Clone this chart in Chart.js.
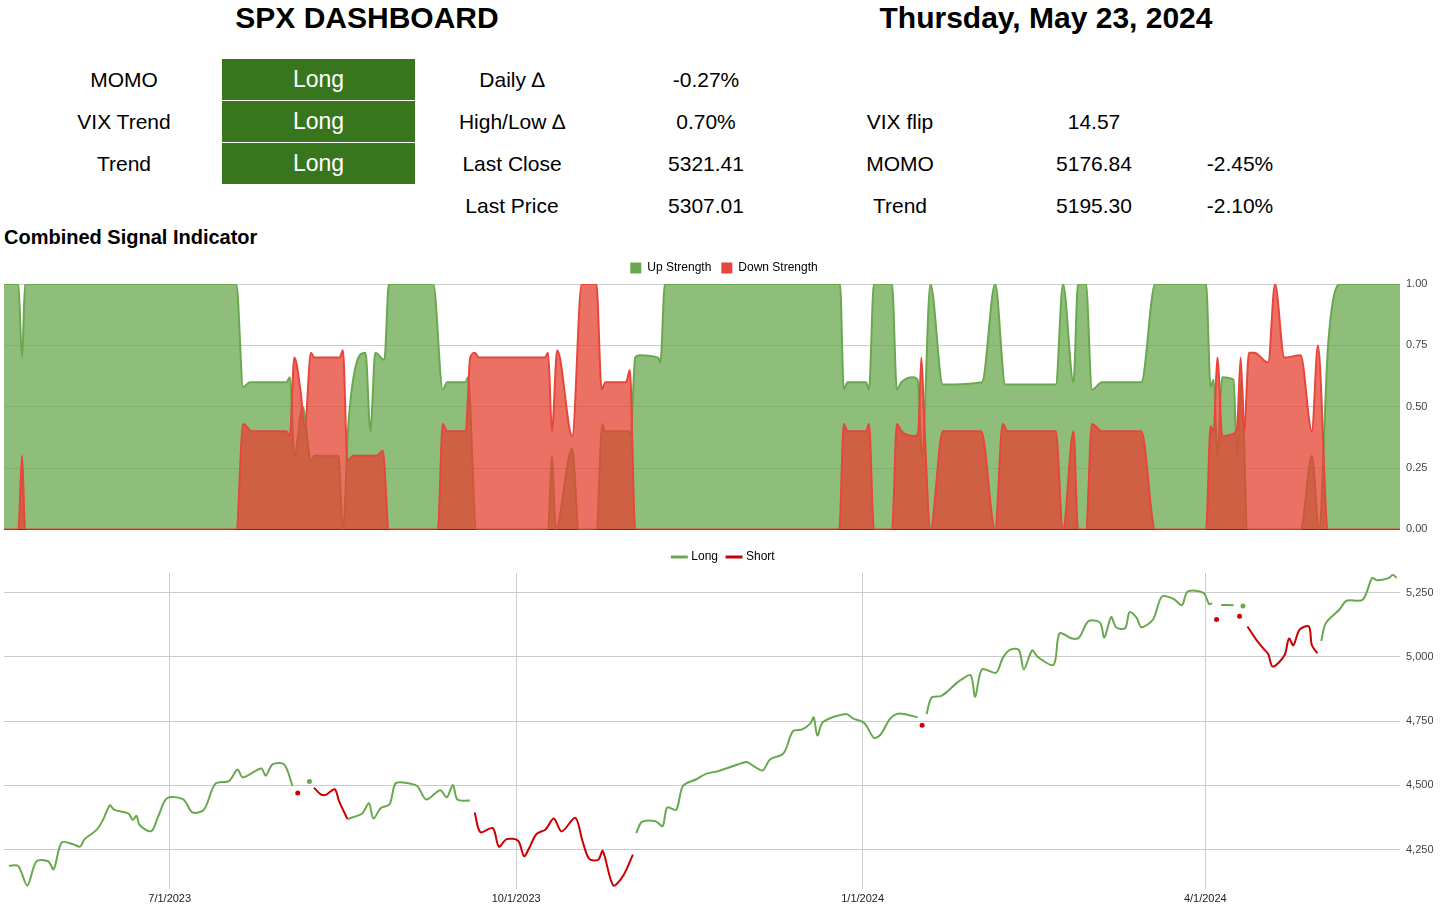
<!DOCTYPE html>
<html><head><meta charset="utf-8">
<script src="https://cdn.jsdelivr.net/npm/chart.js@4.4.1/dist/chart.umd.min.js"></script>
<style>
body{margin:0;width:1444px;height:910px;background:#fff;font-family:"Liberation Sans",Arial,sans-serif;position:relative;overflow:hidden}
.t{position:absolute;transform:translate(-50%,-50%);white-space:nowrap;font-size:21px;color:#000}
.h{font-weight:bold;font-size:30px}
.box{position:absolute;left:222px;width:193px;height:41px;background:#38761d;color:#fff;font-size:23px;display:flex;align-items:center;justify-content:center}
#c1{position:absolute;left:0;top:252px}
#c2{position:absolute;left:0;top:541px}
</style></head><body>
<div class="t h" style="left:367px;top:18px">SPX DASHBOARD</div>
<div class="t h" style="left:1046px;top:18px">Thursday, May 23, 2024</div>
<div id="tbl"></div>
<div style="position:absolute;left:4px;top:226px;font-weight:bold;font-size:20px">Combined Signal Indicator</div>
<canvas id="c1" width="1444" height="290"></canvas>
<canvas id="c2" width="1444" height="369"></canvas>
<script>
// ---- dashboard values ----
const signalNames = ['MOMO','VIX Trend','Trend'];
const signalStates = ['Long','Long','Long'];
const statLabels = ['Daily \u2206','High/Low \u2206','Last Close','Last Price'];
const statValues = ['-0.27%','0.70%','5321.41','5307.01'];
const levelLabels = ['','VIX flip','MOMO','Trend'];
const levelValues = ['','14.57','5176.84','5195.30'];
const levelPct = ['','','-2.45%','-2.10%'];

// ---- Combined signal (days since 2023-05-19) ----
const upDays = [-1,2.8,3.8,4.6,60.7,62.5,64.3,74,74.9,76.1,78.3,80.5,81.4,87.8,89,90.5,93.5,95,96.3,97.6,100,101.2,113,115.5,116.7,121.6,122.2,124.4,143.5,144.5,145.5,149.9,151.6,156.3,157.9,158.5,164.8,165.4,166.6,167.8,172.7,173.3,174.5,221,222,223,227.9,228.7,230,234.8,236.1,237.3,240.4,241.6,242.8,245,248.3,258.7,262.2,264.9,278.3,280.2,283,284.2,286.3,287.9,290.6,301,304.7,318.2,319.4,320.2,321.2,322.5,325.5,326.4,327.6,329.2,343.3,346.3,348.2,350.6,353.7,369.7];
const upStrength = [1,1,0.70,1,1,0.58,0.60,0.60,0.62,0.30,0.50,0.28,0.30,0.30,0,0.44,0.71,0.72,0.40,0.72,0.69,1,1,0.57,0.60,0.60,0.62,0,0,0.30,0,0.33,0,0,0.43,0.40,0.40,0.38,0.70,0.71,0.70,0.68,1,1,0.57,0.60,0.60,0.57,1,1,0.57,0.60,0.62,0.61,0.30,1,0.59,0.60,1,0.59,0.59,1,0.60,1,1,0.57,0.60,0.60,1,1,0.58,0.61,0.30,0.62,0.61,0.30,0.61,0,0,0.30,0,0.75,1,1];
const downDays = [-1,2.8,3.8,4.6,60.7,62.5,64.9,74,74.9,76.1,77.7,78.9,80.5,81.4,88.1,89,90.2,91.7,97.8,99.6,101.2,114.2,115.5,116.7,121.6,122.8,124,125.2,142.6,143.5,144.5,145.9,149.9,152.4,156.3,157.7,158.7,164.2,165.2,166.6,220.8,222,223,227.9,228.7,230,234.8,236.1,237.3,241,241.8,242.6,243.4,245,248.3,258.5,262.2,264.2,265.5,278.3,280.2,283,284.2,286.3,287.9,290.6,301,304.7,318.2,319.4,320.2,321.2,322.5,325.5,326.4,327.4,328.3,329.6,331,334.7,336.5,339,343.3,346.3,347.9,350.6,369.7];
const downStrength = [0,0,0.30,0,0,0.43,0.40,0.40,0.38,0.70,0.57,0.42,0.72,0.70,0.70,0.73,0.28,0.30,0.30,0.32,0,0,0.43,0.40,0.40,0.70,0.72,0.70,0.70,0.72,0.40,0.73,0.38,1,1,0.57,0.60,0.60,0.65,0,0,0.43,0.40,0.40,0.43,0,0,0.43,0.40,0.38,0.40,0.70,0.43,0,0.40,0.40,0,0.43,0.40,0.40,0,0.40,0,0,0.43,0.40,0.40,0,0,0.42,0.40,0.70,0.38,0.39,0.41,0.70,0.40,0.72,0.72,0.68,1,0.70,0.71,0.40,0.75,0,0];

// ---- SPX close by signal (null = break) ----
const longDays = [0.3,2.75,5.2,7.6,10.7,12.2,14.3,17.4,19.2,20.4,23.5,25.3,27.1,28.3,32,33.2,34.2,35,38.1,39.9,42.3,46.6,49,52.1,55.1,58.8,61,62.4,67.3,68.5,70.3,73.4,75.6,77,80.1,85,90.2,94.1,95.9,97.1,99,101.4,102.9,105.1,108.7,111.1,114.8,116.6,118.2,119.4,122.7,140,166.9,168.4,172,173.9,175.1,177.5,179.3,183,185.4,188.5,195,196.3,198.7,200.5,202.4,206,208.5,211,213.2,214,215,216.5,222.6,224.4,227.5,230,231.8,234.2,236.1,237.9,241.6,242.8,244,245.3,247.7,249.5,251.4,253.2,255.7,256.9,258.7,262.4,264.2,266.1,268.5,269.8,272,273.4,277.7,279.3,282.6,284.5,286.9,290,291.2,293,294.3,296.7,297.9,299.8,301,304.1,306.5,309.6,311.8,313.3,317.5,319,319.8,321,322.2,325.5,327,328,340,348.8,350,353.7,355.5,359.8,362.3,363.5,366.5,367.8,368.8];
const longClose = [4187,4187,4111,4205,4205,4174,4278,4271,4262,4291,4326,4366,4422,4405,4391,4366,4382,4346,4322,4378,4450,4446,4395,4406,4506,4518,4562,4531,4566,4538,4582,4582,4498,null,4515,null,4369,4391,4431,4371,4411,4427,4507,4511,4498,4445,4481,4454,4502,4445,4441,null,4315,4358,4361,4342,4414,4405,4498,4525,4545,4555,4587,4591,4569,4558,4601,4625,4711,4718,4742,4765,4694,4747,4778,4761,4742,4685,4698,4758,4778,4778,4765,null,4778,4841,4847,4865,4891,4911,4929,4845,4951,4938,4995,5027,5027,4951,5025,5001,4969,5091,5071,5075,5138,5134,5075,5155,5115,5111,5174,5151,5115,5145,5235,5225,5201,5254,5249,5205,5209,null,5202,5201,null,5198,null,5062,5131,5185,5218,5222,5307,5298,5305,5318,5307];
const shortDays = [77,79,81.3,83.1,84.4,86.8,88,90.2,100,124,125.5,128.8,130.4,132.5,135.5,137.1,138.5,140.4,142.8,145,147.1,150.7,152.6,154.4,156.8,158,160.8,163.5,166,200,242.8,300,321,324,327.1,328,329.2,331.6,333.5,334.7,335.9,339,340.2,341.4,343,345.5,346.3,347.8];
const shortClose = [4471,null,4491,4465,4463,4485,4438,4369,null,4395,4318,4334,4262,4291,4285,4225,4258,4311,4329,4371,4321,4374,4285,4214,4211,4245,4111,4151,4231,null,4734,null,5145,null,5158,null,5118,5065,5031,5011,4962,5005,5071,5045,5105,5118,5045,5014];

const startDate = '2023-05-19';
const tickDates = ['2023-07-01','2023-10-01','2024-01-01','2024-04-01'];
const tickLabels = ['7/1/2023','10/1/2023','1/1/2024','4/1/2024'];
const yTicks2 = [4250,4500,4750,5000,5250];
const yTicks1 = [0,0.25,0.5,0.75,1];

// ---- build dashboard table ----
const tbl = document.getElementById('tbl');
function put(txt,x,y){ if(!txt) return; const d=document.createElement('div'); d.className='t'; d.style.left=x+'px'; d.style.top=y+'px'; d.textContent=txt; tbl.appendChild(d); }
const rowY=[80,122,164,206];
signalNames.forEach((n,i)=>{ put(n,124,rowY[i]); const b=document.createElement('div'); b.className='box'; b.style.top=(rowY[i]-21)+'px'; b.textContent=signalStates[i]; tbl.appendChild(b); });
statLabels.forEach((n,i)=>{ put(n,512,rowY[i]); put(statValues[i],706,rowY[i]); });
levelLabels.forEach((n,i)=>{ put(n,900,rowY[i]); put(levelValues[i],1094,rowY[i]); put(levelPct[i],1240,rowY[i]); });

const dayOf = s => Math.round((new Date(s+'T00:00:00Z') - new Date(startDate+'T00:00:00Z'))/86400000);
const tickDays = tickDates.map(dayOf);
const zip = (xs,ys) => xs.map((x,i)=>({x, y: ys[i]}));
const gridC = '#cccccc';
const tickFont = {family:'"Liberation Sans",Arial', size:11};
const fitRight = s => { s.width = 44; };

new Chart(document.getElementById('c1'), {
  type:'line',
  data:{ datasets:[
    {label:'Up Strength', data: zip(upDays, upStrength), borderColor:'#6aa84f', backgroundColor:'rgba(106,168,79,0.75)', fill:'origin', order:2},
    {label:'Down Strength', data: zip(downDays, downStrength), borderColor:'#e8453c', backgroundColor:'rgba(230,65,50,0.75)', fill:'origin', order:1}
  ]},
  options:{ responsive:false, animation:false, devicePixelRatio:1,
    layout:{padding:{left:4,right:0,top:0,bottom:4}},
    elements:{ point:{radius:0}, line:{borderWidth:2, cubicInterpolationMode:'monotone'} },
    plugins:{ tooltip:{enabled:false},
      legend:{ labels:{ boxWidth:11, boxHeight:11, font:{family:'"Liberation Sans",Arial', size:12}, color:'#222',
        generateLabels: ch => ch.data.datasets.map((d,i)=>({text:d.label, fillStyle: i? '#e8453c':'#6aa84f', strokeStyle:'transparent', lineWidth:0, datasetIndex:i})) } } },
    scales:{
      x:{ type:'linear', min:-1, max:369.7, display:false },
      y:{ position:'right', min:0, max:1, afterFit: fitRight,
        afterBuildTicks: s => { s.ticks = yTicks1.map(v=>({value:v})); },
        ticks:{ font:tickFont, color:'#444', padding:6, callback: v => v.toFixed(2) },
        grid:{ color: c => c.tick && c.tick.value===0 ? '#333' : gridC, drawTicks:false }, border:{display:false} }
    } }
});

function isoRadius(arr){ return c => { const i=c.dataIndex; const p=arr[i-1], n=arr[i+1]; return (arr[i]!=null && (p==null) && (n==null)) ? 2.5 : 0; }; }

new Chart(document.getElementById('c2'), {
  type:'line',
  data:{ datasets:[
    {label:'Long', data: zip(longDays, longClose), borderColor:'#6aa84f', backgroundColor:'#6aa84f', pointRadius: isoRadius(longClose)},
    {label:'Short', data: zip(shortDays, shortClose), borderColor:'#cc0000', backgroundColor:'#cc0000', pointRadius: isoRadius(shortClose)}
  ]},
  options:{ responsive:false, animation:false, devicePixelRatio:1, spanGaps:false,
    layout:{padding:{left:4,right:0,top:0,bottom:0}},
    elements:{ point:{hoverRadius:0, borderWidth:0}, line:{borderWidth:2, tension:0.3} },
    plugins:{ tooltip:{enabled:false},
      legend:{ labels:{ usePointStyle:true, pointStyle:'line', boxWidth:12, font:{family:'"Liberation Sans",Arial', size:12}, color:'#222',
        generateLabels: ch => ch.data.datasets.map((d,i)=>({text:d.label, pointStyle:'line', strokeStyle:d.borderColor, fillStyle:d.borderColor, lineWidth:3, datasetIndex:i})) } } },
    scales:{
      x:{ type:'linear', min:-1, max:369.7,
        afterBuildTicks: s => { s.ticks = tickDays.map(v=>({value:v})); },
        ticks:{ font:tickFont, color:'#222', maxRotation:0, autoSkip:false, padding:4, callback: v => tickLabels[tickDays.indexOf(v)] },
        grid:{ color:gridC, drawTicks:false }, border:{display:false} },
      y:{ position:'right', min:4098, max:5326, afterFit: fitRight,
        afterBuildTicks: s => { s.ticks = yTicks2.map(v=>({value:v})); },
        ticks:{ font:tickFont, color:'#444', padding:6 },
        grid:{ color:gridC, drawTicks:false }, border:{display:false} }
    } }
});
</script>
</body></html>
